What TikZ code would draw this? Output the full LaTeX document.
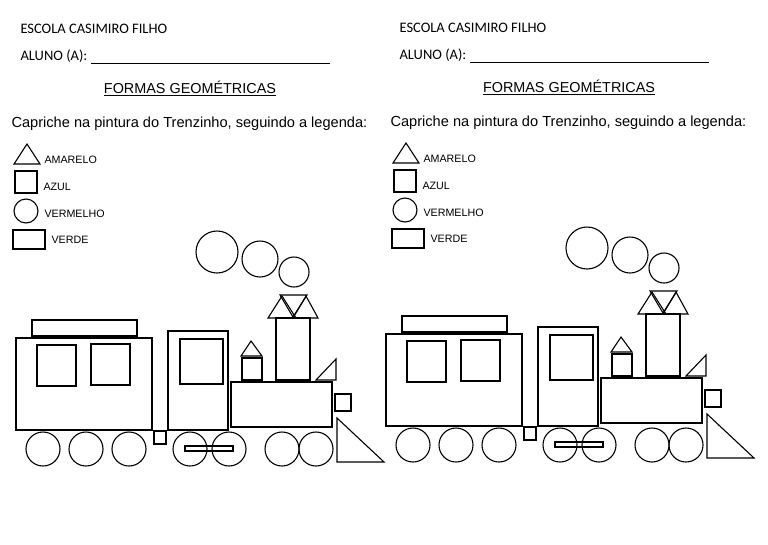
\documentclass[tikz,border=0pt]{standalone}
\usepackage{fontspec}
\setmainfont{Liberation Sans}
\newfontfamily\calib{Carlito}
\begin{document}
\begin{tikzpicture}[x=1pt,y=-1pt,line width=1.1pt,
  lbl/.style={inner sep=0pt,anchor=west,font=\fontsize{10.7}{12}\selectfont},
  hdr/.style={inner sep=0pt,anchor=west,font=\calib\fontsize{14.5}{16}\selectfont}]
\useasboundingbox[fill=white] (0,0) rectangle (768,544);
\newcommand\hdrpart[2]{%
\begin{scope}[shift={(#1)}]
\node[hdr] (school#2) at (20,29) {ESCOLA CASIMIRO FILHO};
\node[hdr] (aluno#2) at (20,56) {ALUNO (A):};
\draw[line width=0.7pt] (91,63) -- (330,63);
\node[inner sep=0pt,font=\fontsize{14.4}{16}\selectfont] (title#2) at (190,88) {\underline{FORMAS GEOMÉTRICAS}};
\node[inner sep=0pt,anchor=west,font=\fontsize{14.6}{16}\selectfont] (cap#2) at (11,124) {Capriche na pintura do Trenzinho, seguindo a legenda:};
\draw (14,164) -- (27,144) -- (40,164) -- cycle;
\draw (15,171) rectangle (37,193);
\draw (26,211) circle (12);
\draw (13,230) rectangle (45,249);
\node[lbl] (am#2) at (44,160) {AMARELO};
\node[lbl] (az#2) at (43,187) {AZUL};
\node[lbl] (ve#2) at (44,214) {VERMELHO};
\node[lbl] (vd#2) at (51,240) {VERDE};
\end{scope}}
\newcommand\trainpart[1]{%
\begin{scope}[shift={(#1)}]
\draw (217,252) circle (21) (260,259) circle (18) (294,272) circle (15);
\draw (268,318) -- (282,296) -- (296,318) -- cycle;
\draw (293,318) -- (306,296) -- (318,318) -- cycle;
\draw (280,295) -- (307,295) -- (293,317) -- cycle;
\draw (276,318) rectangle (310,380);
\draw (241,356) -- (251,341) -- (262,356) -- cycle;
\draw (242,358) rectangle (262,380);
\draw (316,380) -- (336,380) -- (336,359) -- cycle;
\draw (231,382) rectangle (332,427);
\draw (335,394) rectangle (351,411);
\draw (168,331) rectangle (228,430);
\draw (180,339) rectangle (223,384);
\draw (16,338) rectangle (152,430);
\draw (32,320) rectangle (137,336);
\draw (37,345) rectangle (76,386) (91,344) rectangle (130,385);
\draw (154,431) rectangle (166,444);
\foreach \cx in {43,86,129,190,229,282,316} \draw (\cx,449) circle (17);
\draw (185,446) rectangle (233,451);
\draw (337,418) -- (337,462) -- (384,462) -- cycle;
\end{scope}}
\hdrpart{0,0}{L}
\hdrpart{379,-1}{R}
\trainpart{0,0}
\trainpart{370,-4}
\end{tikzpicture}
\end{document}
